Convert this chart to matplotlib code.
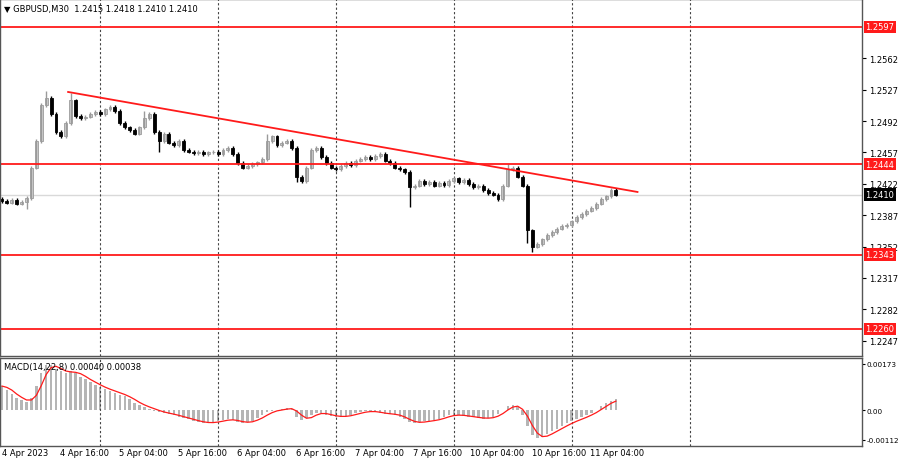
import matplotlib
matplotlib.use("Agg")
import matplotlib.pyplot as plt
import numpy as np

closes = [1.2403,1.2401,1.2404,1.2400,1.2402,1.2406,1.2440,1.2470,1.2510,1.2518,
1.2500,1.2480,1.2475,1.2490,1.2515,1.2498,1.2495,1.2497,1.2500,1.2502,
1.2500,1.2505,1.2508,1.2503,1.2490,1.2485,1.2482,1.2478,1.2485,1.2495,
1.2500,1.2480,1.2470,1.2478,1.2468,1.2465,1.2470,1.2460,1.2458,1.2456,
1.2458,1.2455,1.2457,1.2458,1.2455,1.2460,1.2462,1.2455,1.2445,1.2440,
1.2442,1.2444,1.2446,1.2450,1.2470,1.2475,1.2465,1.2468,1.2470,1.2462,
1.2430,1.2425,1.2440,1.2460,1.2462,1.2452,1.2445,1.2440,1.2438,1.2442,
1.2445,1.2443,1.2448,1.2450,1.2452,1.2450,1.2453,1.2455,1.2448,1.2445,
1.2440,1.2438,1.2435,1.2418,1.2420,1.2425,1.2422,1.2424,1.2420,1.2423,
1.2421,1.2425,1.2428,1.2424,1.2426,1.2422,1.2418,1.2420,1.2415,1.2412,
1.2410,1.2405,1.2420,1.2438,1.2440,1.2430,1.2420,1.2370,1.2352,1.2355,
1.2360,1.2365,1.2368,1.2372,1.2375,1.2376,1.2380,1.2385,1.2388,1.2392,
1.2395,1.2400,1.2405,1.2408,1.2415,1.2410]
first_open = 1.2405
wick_base = 0.0004
wick_high_extra = {9: 0.0006, 14: 0.0006, 29: 0.0006, 54: 0.0006, 103: 0.0004}
wick_low_extra = {5: 0.0006, 32: 0.0010, 60: 0.0004, 83: 0.0020, 107: 0.0012, 108: 0.0004}
macd = [90,75,60,45,38,30,45,90,140,170,168,155,145,140,145,140,125,115,105,95,
85,78,72,65,58,52,40,28,18,12,5,-2,-8,-12,-15,-20,-25,-30,-35,-40,
-45,-48,-48,-46,-42,-38,-35,-38,-45,-48,-45,-40,-30,-20,-8,-2,0,2,8,5,
-25,-38,-30,-18,-10,-12,-18,-22,-25,-25,-22,-18,-12,-8,-5,-5,-8,-12,-15,-15,
-18,-25,-35,-45,-48,-46,-42,-40,-38,-32,-25,-20,-18,-20,-22,-25,-28,-30,-32,-30,
-25,-15,0,15,18,10,-20,-60,-95,-105,-100,-90,-80,-70,-60,-50,-42,-35,-28,-20,
-10,0,15,25,35,40]
levels_red = [1.2597, 1.2444, 1.2343, 1.2260]
price_ticks = [1.2562, 1.2527, 1.2492, 1.2457, 1.2422, 1.2387, 1.2352, 1.2317, 1.2282, 1.2247]
last_price = 1.2410
trend_x = [13.47, 129.4]
trend_y = [1.25245, 1.24129]
grid_x = [20, 43.9, 68, 92, 116, 140]
date_labels = ["4 Apr 2023","4 Apr 16:00","5 Apr 04:00","5 Apr 16:00","6 Apr 04:00",
               "6 Apr 16:00","7 Apr 04:00","7 Apr 16:00","10 Apr 04:00","10 Apr 16:00","11 Apr 04:00"]
date_px = [2, 60, 119, 178, 237, 296, 355, 413, 470, 532, 590]

W, H = 900, 460
fig = plt.figure(figsize=(9, 4.6), dpi=100)
fig.patch.set_facecolor("white")
def ax_at(x0, y0, x1, y1):
    return fig.add_axes([x0/W, 1-y1/H, (x1-x0)/W, (y1-y0)/H])
ax = ax_at(0, 0, 862, 357)
am = ax_at(0, 359, 862, 447)
xmax = (862-2)/4.9 - 0.4
for a in (ax, am):
    a.set_xlim(-0.4, xmax)
    a.set_xticks([])
    a.yaxis.tick_right()
    a.tick_params(axis="y", length=3, width=0.8, pad=2, labelsize=6, colors="#000000")
    for s in a.spines.values():
        s.set_color("#555555"); s.set_linewidth(1)
    for g in grid_x:
        a.axvline(g, color="#444444", lw=0.8, ls=(0, (2, 2)))
am.tick_params(axis="y", labelsize=5.2, pad=1, length=2.5)
ytop = 1.2597 + 28/8961; ybot = 1.2597 - 329/8961
ax.set_ylim(ybot, ytop)
ax.set_yticks(price_ticks)
ax.set_yticklabels([f"{t:.4f}" for t in price_ticks])

opens = [first_open] + closes[:-1]
n = len(closes)
for i in range(n):
    o, c = opens[i], closes[i]
    hi = max(o, c) + wick_base*0.5 + wick_high_extra.get(i, 0)
    lo = min(o, c) - wick_base*0.5 - wick_low_extra.get(i, 0)
    up = c >= o
    col = "#9a9a9a" if up else "#000000"
    ax.vlines(i, lo, hi, color=col, lw=1)
    b0, b1 = min(o, c), max(o, c)
    if b1 - b0 < 0.00005: b1 = b0 + 0.00005
    ax.add_patch(plt.Rectangle((i-0.3, b0), 0.6, b1-b0,
                 facecolor="#d0d0d0" if up else "#000000", edgecolor=col, lw=0.6))

ax.axhline(last_price, color="#d9d9d9", lw=1, zorder=0)
for lv in levels_red:
    ax.axhline(lv, color="#ff1a1a", lw=1.3)
ax.plot(trend_x, trend_y, color="#ff1a1a", lw=1.3)

tr = ax.get_yaxis_transform()
for lv in levels_red:
    ax.text(1.004, lv, f"{lv:.4f}", transform=tr, fontsize=6, va="center", ha="left", color="white",
            bbox=dict(boxstyle="square,pad=0.2", fc="#ff1a1a", ec="none"), clip_on=False)
ax.text(1.004, last_price, f"{last_price:.4f}", transform=tr, fontsize=6, va="center", ha="left",
        color="white", bbox=dict(boxstyle="square,pad=0.2", fc="black", ec="none"), clip_on=False)
ax.text(0.005, 0.985, "▼ GBPUSD,M30  1.2415 1.2418 1.2410 1.2410", transform=ax.transAxes,
        fontsize=6, va="top", ha="left")

mv = np.array(macd) * 1e-5
sig = np.convolve(np.r_[mv[0], mv[0], mv], np.ones(3)/3, mode="valid")
am.set_ylim(-(447-411)/26590, (411-359)/26590)
am.set_yticks([0.00173, 0.0, -0.00112])
am.set_yticklabels(["0.00173", "0.00", "-0.00112"])
am.bar(np.arange(n), mv, width=0.5, color="#b5b5b5")
am.plot(np.arange(n), sig, color="#ff1a1a", lw=0.9)
am.text(0.005, 0.95, "MACD(14,22,8) 0.00040 0.00038", transform=am.transAxes,
        fontsize=6, va="top", ha="left")
for lab, px in zip(date_labels, date_px):
    fig.text(px/W, 1-454/H, lab, fontsize=6, va="center", ha="left")
fig.savefig("out.png", dpi=100)
